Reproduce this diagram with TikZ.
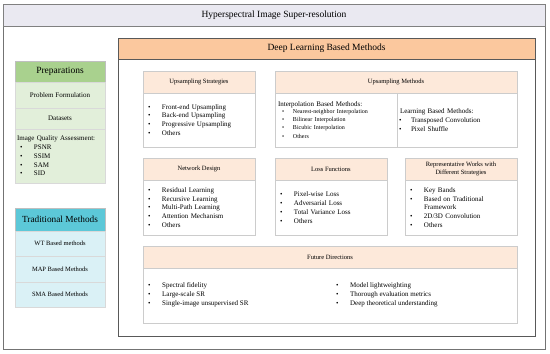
\documentclass[tikz,border=0pt]{standalone}
\usepackage{fontspec}
\setmainfont{Liberation Serif}
\usepackage{xcolor}
\usetikzlibrary{positioning}

\definecolor{titlegray}{HTML}{EAE9F1}
\definecolor{dlorange}{HTML}{FBC89E}
\definecolor{peach}{HTML}{FDE9DA}
\definecolor{prepgreen}{HTML}{A9D18E}
\definecolor{preplight}{HTML}{E2EFDA}
\definecolor{tradteal}{HTML}{5CC8D8}
\definecolor{tradlight}{HTML}{DAF1F6}

\newcommand{\bitem}[1]{\makebox[14pt][l]{\textbullet}#1}
\newcommand{\sitem}[1]{\hspace*{4pt}\makebox[11pt][l]{\textbullet}#1}

\begin{document}
\begin{tikzpicture}[
    x=1pt, y=-1pt,
    frame/.style={draw=black!55, line width=0.8pt, outer sep=0pt, inner sep=0pt},
    titlebar/.style={draw=black!50, line width=1pt, fill=titlegray, outer sep=0pt, font=\fontsize{9.5}{11}\selectfont},
    dlbox/.style={draw=black!65, line width=0.8pt, outer sep=0pt, inner sep=0pt},
    dlhead/.style={draw=black!65, line width=0.8pt, fill=dlorange, outer sep=0pt, font=\fontsize{9.5}{11}\selectfont},
    subhead/.style={draw=black!20, line width=0.8pt, fill=peach, outer sep=0pt, align=center, minimum height=22pt, font=\fontsize{6.5}{8}\selectfont},
    subbody/.style={draw=black!20, line width=0.8pt, fill=white, outer sep=0pt, inner xsep=5pt, align=left, font=\fontsize{7}{8.8}\selectfont},
    listtext/.style={inner sep=0pt, align=left, font=\fontsize{7}{8.8}\selectfont},
    prephead/.style={draw=black!25, line width=0.8pt, fill=prepgreen, outer sep=0pt, minimum width=90pt, font=\fontsize{9.5}{11}\selectfont},
    preprow/.style={draw=black!15, line width=0.8pt, fill=preplight, outer sep=0pt, minimum width=90pt, font=\fontsize{7}{8.8}\selectfont},
    tradhead/.style={draw=black!25, line width=0.8pt, fill=tradteal, outer sep=0pt, minimum width=90pt, font=\fontsize{9.3}{11}\selectfont},
    tradrow/.style={draw=black!15, line width=0.8pt, fill=tradlight, outer sep=0pt, minimum width=90pt, font=\fontsize{6.5}{8}\selectfont}
]
    \useasboundingbox (0,0) rectangle (550,354);

    % Frame and title
    \node (outer) [frame, minimum width=542pt, minimum height=345pt, anchor=north west] at (3,4) {};
    \node (title) [titlebar, minimum width=542pt, minimum height=22pt, anchor=north west] at (3,4) {Hyperspectral Image Super-resolution};

    % Preparations
    \node (prep) [prephead, minimum height=21pt, anchor=north west] at (15,61) {Preparations};
    \node (formulation) [preprow, minimum height=26pt, below=0pt of prep] {Problem Formulation};
    \node (datasets) [preprow, minimum height=21pt, below=0pt of formulation] {Datasets};
    \node (iqa) [preprow, minimum height=54pt, text width=86pt, inner xsep=2pt, align=left, below=0pt of datasets]
        {Image Quality Assessment:\\ \hspace*{3pt}\bitem{PSNR}\\ \hspace*{3pt}\bitem{SSIM}\\ \hspace*{3pt}\bitem{SAM}\\ \hspace*{3pt}\bitem{SID}};

    % Traditional methods
    \node (trad) [tradhead, minimum height=23pt, anchor=north west] at (15,208) {Traditional Methods};
    \node (wt) [tradrow, minimum height=25pt, below=0pt of trad] {WT Based methods};
    \node (map) [tradrow, minimum height=26pt, below=0pt of wt] {MAP Based Methods};
    \node (sma) [tradrow, minimum height=25pt, below=0pt of map] {SMA Based Methods};

    % Deep learning
    \node (dl) [dlbox, minimum width=417pt, minimum height=298pt, anchor=north west] at (118,38) {};
    \node (dlhead) [dlhead, minimum width=417pt, minimum height=21pt, anchor=north west] at (118,38) {Deep Learning Based Methods};

    % Upsampling strategies
    \node (usHead) [subhead, minimum width=112pt, anchor=north west] at (143,71) {Upsampling Strategies};
    \node (usBody) [subbody, text width=102pt, minimum height=54pt, below=0pt of usHead]
        {\bitem{Front-end Upsampling}\\ \bitem{Back-end Upsampling}\\ \bitem{Progressive Upsampling}\\ \bitem{Others}};

    % Upsampling methods
    \node (umHead) [subhead, minimum width=242pt, anchor=north west] at (275,71) {Upsampling Methods};
    \node (umLeft) [subbody, text width=116pt, inner xsep=3pt, minimum height=54pt, below right=0pt and 0pt of umHead.south west]
        {Interpolation Based Methods:\\[-1pt]
         {\fontsize{6}{8}\selectfont\sitem{Nearest-neighbor Interpolation}\\ \sitem{Bilinear Interpolation}\\ \sitem{Bicubic Interpolation}\\ \sitem{Others}}};
    \node (umRight) [subbody, text width=114pt, inner xsep=3pt, minimum height=54pt, right=0pt of umLeft]
        {Learning Based Methods:\\ \hspace*{-1pt}\makebox[12pt][l]{\textbullet}Transposed Convolution\\ \hspace*{-1pt}\makebox[12pt][l]{\textbullet}Pixel Shuffle};

    % Network design
    \node (ndHead) [subhead, minimum width=112pt, anchor=north west] at (143,158) {Network Design};
    \node (ndBody) [subbody, text width=102pt, minimum height=55pt, below=0pt of ndHead]
        {\bitem{Residual Learning}\\ \bitem{Recursive Learning}\\ \bitem{Multi-Path Learning}\\ \bitem{Attention Mechanism}\\ \bitem{Others}};

    % Loss functions
    \node (lfHead) [subhead, minimum width=112pt, anchor=north west] at (275,158) {Loss Functions};
    \node (lfBody) [subbody, text width=102pt, inner xsep=5pt, minimum height=55pt, below=0pt of lfHead]
        {\bitem{Pixel-wise Loss}\\ \bitem{Adversarial Loss}\\ \bitem{Total Variance Loss}\\ \bitem{Others}};

    % Representative works
    \node (rwHead) [subhead, minimum width=112pt, anchor=north west] at (405,158) {Representative Works with\\ Different Strategies};
    \node (rwBody) [subbody, text width=102pt, minimum height=55pt, below=0pt of rwHead]
        {\bitem{Key Bands}\\ \bitem{Based on Traditional}\\ \hspace*{14pt}Framework\\ \bitem{2D/3D Convolution}\\ \bitem{Others}};

    % Future directions
    \node (fdHead) [subhead, minimum width=374pt, anchor=north west] at (143,246) {Future Directions};
    \node (fdBody) [subbody, minimum width=374pt, minimum height=55pt, below=0pt of fdHead] {};
    \node (fdLeft) [listtext, anchor=west] at (148,295)
        {\bitem{Spectral fidelity}\\ \bitem{Large-scale SR}\\ \bitem{Single-image unsupervised SR}};
    \node (fdRight) [listtext, anchor=west] at (336,295)
        {\bitem{Model lightweighting}\\ \bitem{Thorough evaluation metrics}\\ \bitem{Deep theoretical understanding}};

\end{tikzpicture}
\end{document}
